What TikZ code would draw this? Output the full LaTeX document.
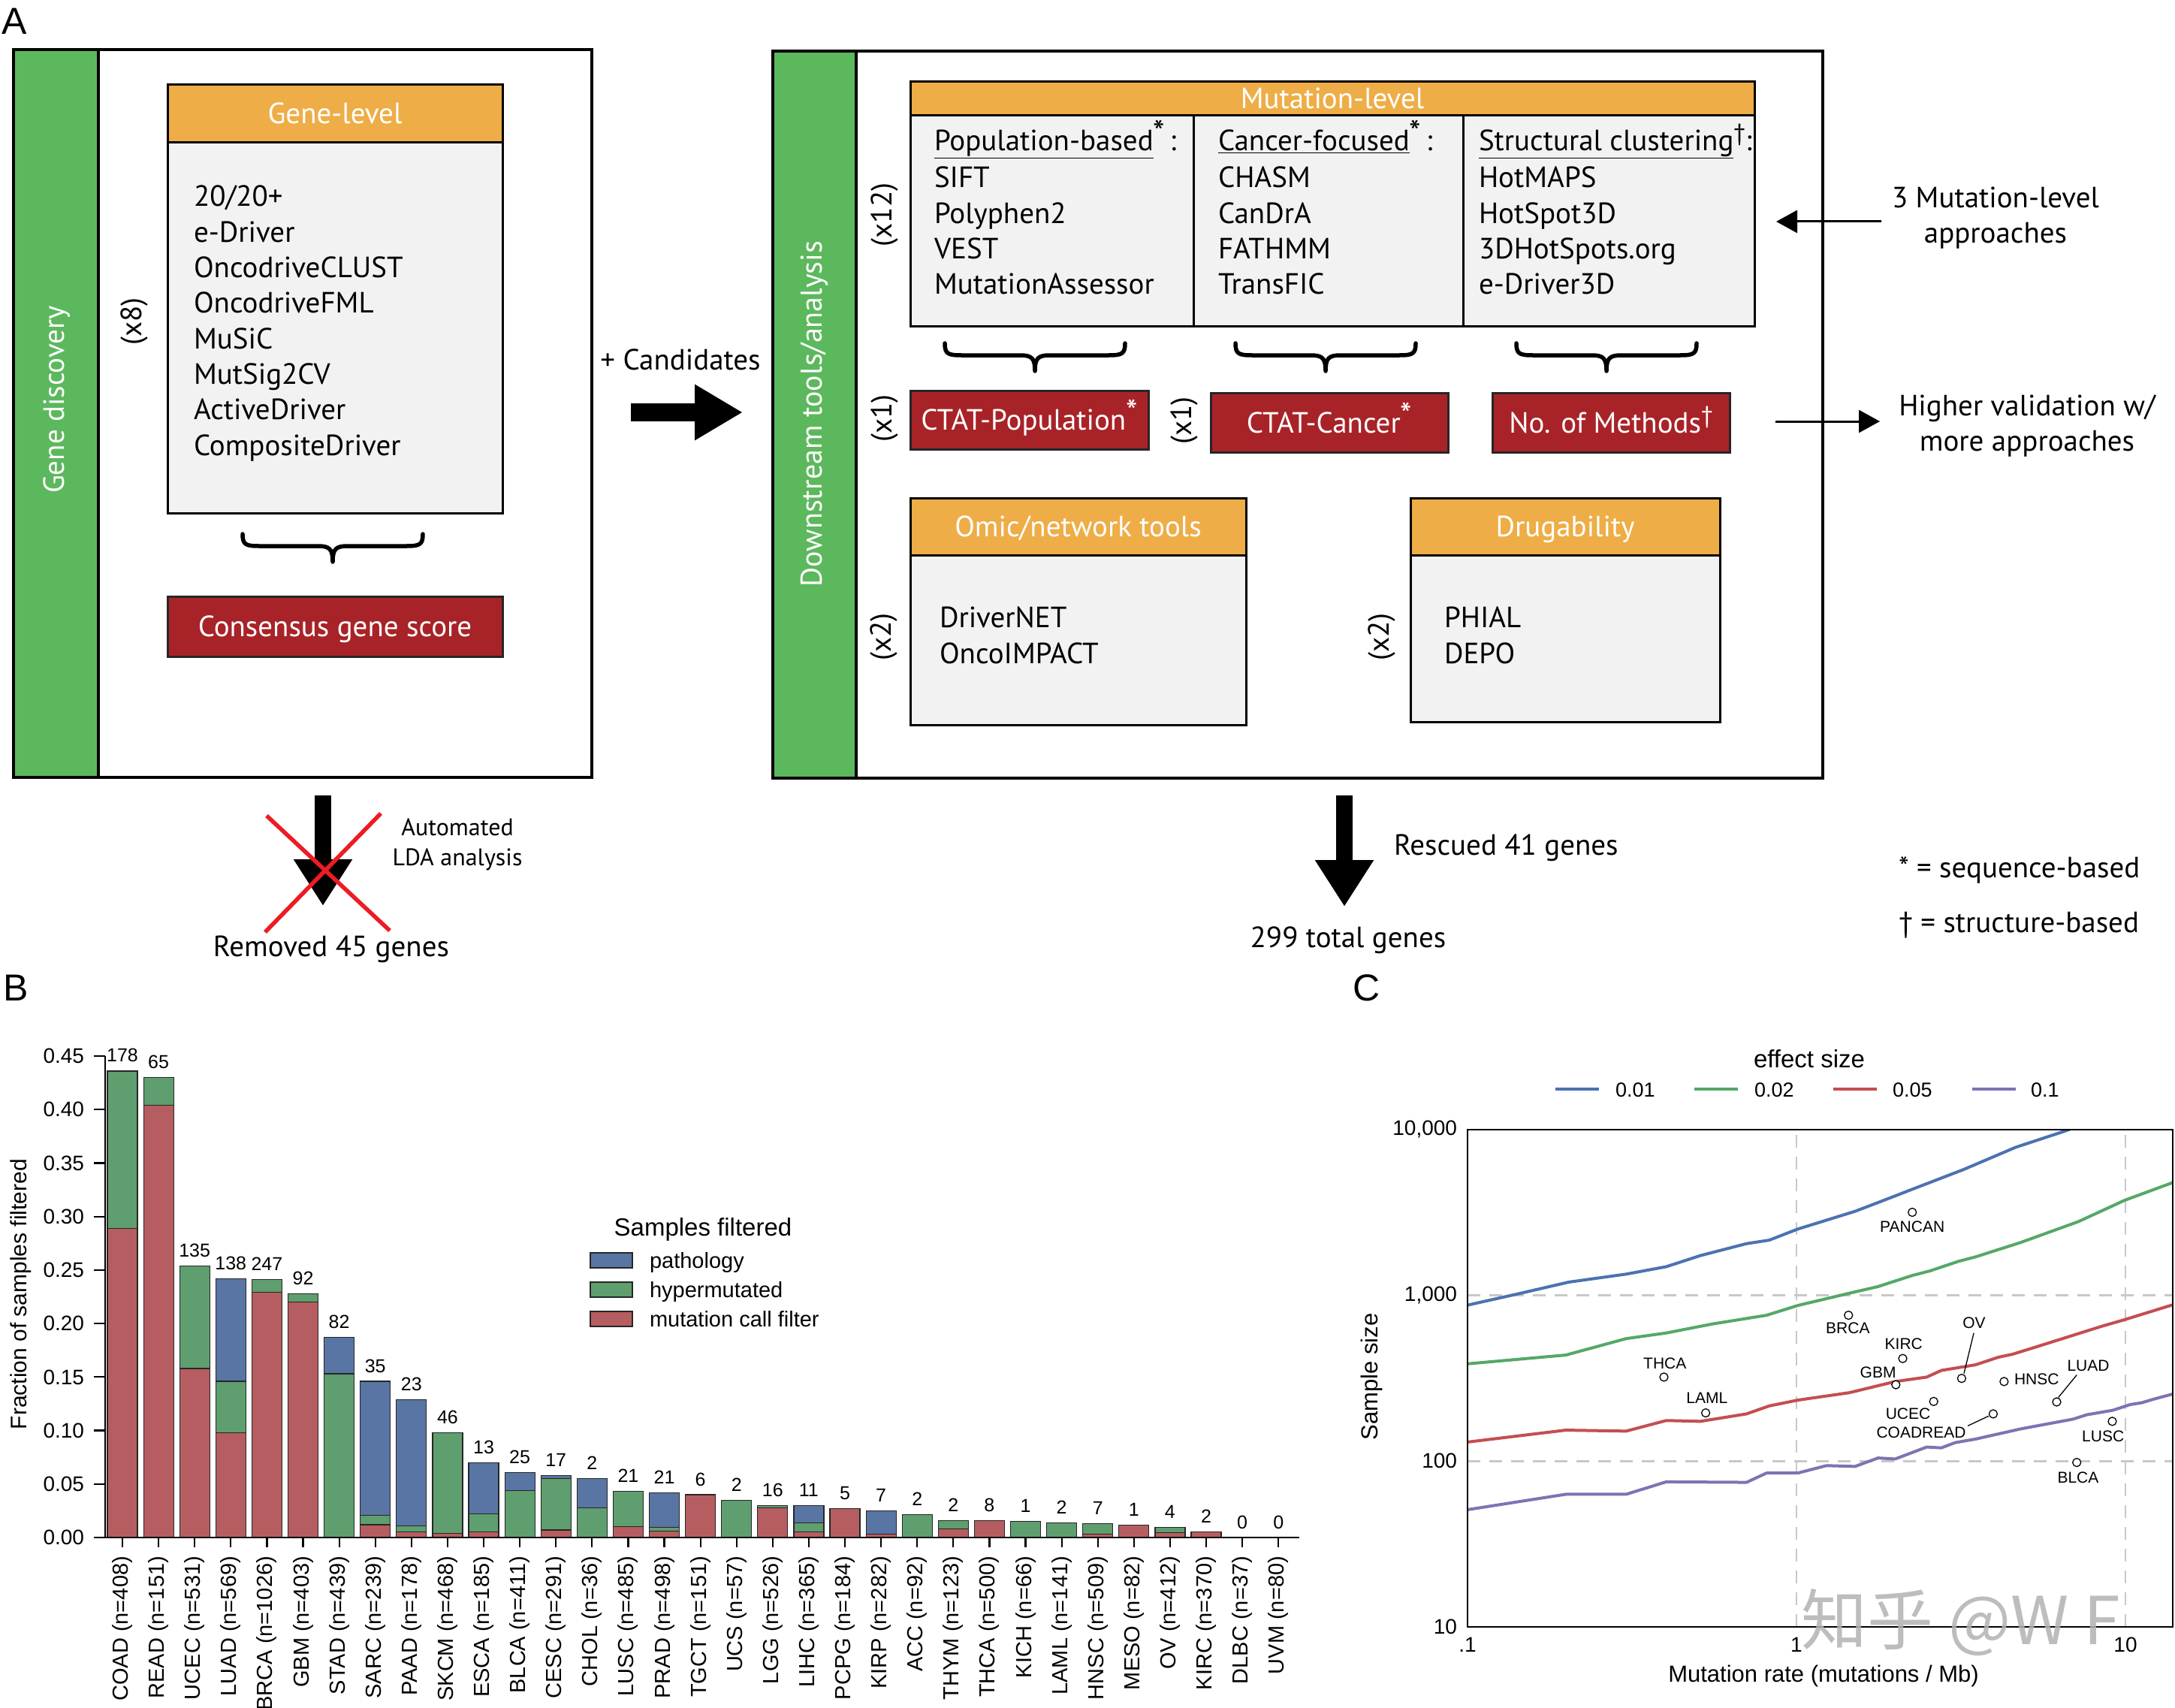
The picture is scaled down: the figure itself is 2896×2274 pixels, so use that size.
\documentclass[tikz,border=0pt]{standalone}
\usepackage{fontspec}
\setmainfont{PT Sans}
\newfontfamily\arialf{Liberation Sans}
\newfontfamily\cjkf{Noto Sans CJK SC}
\usetikzlibrary{arrows.meta}
\newcommand\fsz[1]{\fontsize{#1}{#1}\selectfont}
\newcommand\supast{\raisebox{9pt}{\fsz{44}*}}
\newcommand\supdag{\raisebox{13pt}{\fsz{32}†}}
\definecolor{gbarc}{RGB}{92,184,92}
\definecolor{ohdr}{RGB}{238,173,70}
\definecolor{dred}{RGB}{168,35,40}
\definecolor{lgray}{RGB}{242,242,242}
\definecolor{bblue}{HTML}{5975A4}
\definecolor{bgreen}{HTML}{5F9E6E}
\definecolor{bred}{HTML}{B55D60}
\definecolor{cblue}{HTML}{4C72B0}
\definecolor{cgreen}{HTML}{55A868}
\definecolor{cred}{HTML}{C44E52}
\definecolor{cpurp}{HTML}{8172B2}
\definecolor{xred}{RGB}{237,28,36}
\definecolor{edgec}{RGB}{38,38,38}
\definecolor{gridc}{RGB}{200,200,200}
\newcommand\hbrace[3]{%
  \pgfmathsetmacro\bxm{(#1+#2)/2}%
  \draw[line width=5.5pt, line cap=round, line join=round] (#1,#3) .. controls (#1,#3+14) and (#1+4,#3+16) .. (#1+22,#3+16) -- (\bxm-20,#3+16) .. controls (\bxm-4,#3+16) and (\bxm,#3+20) .. (\bxm,#3+37) .. controls (\bxm,#3+20) and (\bxm+4,#3+16) .. (\bxm+20,#3+16) -- (#2-22,#3+16) .. controls (#2-4,#3+16) and (#2,#3+14) .. (#2,#3);}
\begin{document}
\begin{tikzpicture}[x=1pt,y=-1pt,
  every node/.style={inner sep=0pt,outer sep=0pt},
  frame/.style={draw, line width=3.2pt},
  gbarst/.style={draw, line width=3.2pt, fill=gbarc},
  hdr/.style={draw, line width=3pt, fill=ohdr, text=white, font=\fsz{39}, text height=27pt, text depth=0pt},
  bodyst/.style={draw, line width=3pt, fill=lgray},
  redbox/.style={draw=black!85, line width=3pt, fill=dred, text=white, font=\fsz{39}, text height=27pt, text depth=0pt},
  txt/.style={font=\fsz{39}, anchor=base west},
  rottxt/.style={rotate=90, font=\fsz{39}},
  fatA/.style={line width=24pt, -{Triangle[length=64pt,width=70pt]}},
  fatD/.style={line width=22pt, -{Triangle[length=62pt,width=74pt]}},
  thinarrow/.style={line width=3pt, -{Triangle[length=28pt,width=30pt]}},
  barst/.style={draw=edgec, line width=1.2pt},
  ptst/.style={draw=black, fill=white, line width=1.3pt},
  plab/.style={font=\arialf\fsz{21}},
  leader/.style={line width=1.3pt},
  curve/.style={line width=4pt, line join=round},
  gridst/.style={gridc, line width=2.5pt, dash pattern=on 17pt off 12pt}]
\useasboundingbox (0,0) rectangle (2896,2274);
\fill[white] (0,0) rectangle (2896,2274);

% panel labels
\node[font=\arialf\fsz{50}] (lblA) at (19,28) {A};
\node[font=\arialf\fsz{50}] (lblB) at (21,1315) {B};
\node[font=\arialf\fsz{50}] (lblC) at (1820,1315) {C};

% ---------- Panel A: gene discovery ----------
\node[frame, minimum width=770pt, minimum height=969pt] (geneBox) at (403,550.5) {};
\node[gbarst, minimum width=113pt, minimum height=969pt] (gbarA) at (74.5,550.5) {};
\node[rottxt, text=white] (gdLab) at (76,532) {Gene discovery};
\node[bodyst, minimum width=446pt, minimum height=493pt] (glBody) at (446,436.5) {};
\node[hdr, minimum width=446pt, minimum height=77pt] (glHdr) at (446,151.5) {Gene-level};
\foreach \t [count=\k from 0] in {{20/20+},e-Driver,OncodriveCLUST,OncodriveFML,MuSiC,MutSig2CV,ActiveDriver,CompositeDriver}
  \node[txt] (glItem\k) at (258,275+47.3*\k) {\t};
\node[rottxt] (x8) at (179,428) {(x8)};
\hbrace{323}{563}{711}
\node[redbox, minimum width=446pt, minimum height=80pt] (consBox) at (446,834) {Consensus gene score};

% candidates arrow
\node[font=\fsz{39}, anchor=base] (candLab) at (906,492) {+ Candidates};
\coordinate (candS) at (840,549);
\coordinate (candE) at (989,549);
\draw[fatA] (candS) -- (candE);

% removed arrow
\coordinate (ldS) at (430,1059);
\coordinate (ldE) at (430,1206);
\draw[fatD] (ldS) -- (ldE);
\draw[xred, line width=5.5pt] (355,1086) -- (519,1239) (507,1083) -- (353,1241);
\node[font=\fontsize{32}{40}\selectfont, align=center] (ldaLab) at (609,1124) {Automated\\LDA analysis};
\node[font=\fsz{39}, anchor=base] (remLab) at (441,1273) {Removed 45 genes};

% ---------- Panel A: downstream ----------
\node[frame, minimum width=1398pt, minimum height=968pt] (dsBox) at (1728,552) {};
\node[gbarst, minimum width=111pt, minimum height=968pt] (gbarB) at (1084.5,552) {};
\node[rottxt, text=white, font=\fsz{40}] (dsLab) at (1084,551) {Downstream tools/analysis};

\node[bodyst, minimum width=1124pt, minimum height=280pt] (mlBody) at (1774,294) {};
\node[hdr, minimum width=1124pt, minimum height=45pt] (mlHdr) at (1774,131.5) {Mutation-level};
\draw[line width=3pt] (1589,154) -- (1589,434) (1948,154) -- (1948,434);
\node[txt] (c1h) at (1244,201) {\underline{Population-based}\supast\,:};
\node[txt] (c2h) at (1622,201) {\underline{Cancer-focused}\supast\,:};
\node[txt] (c3h) at (1969,201) {\underline{Structural clustering}\supdag:};
\foreach \t [count=\k from 0] in {SIFT,Polyphen2,VEST,MutationAssessor}
  \node[txt] (c1i\k) at (1244,250+47.3*\k) {\t};
\foreach \t [count=\k from 0] in {CHASM,CanDrA,FATHMM,TransFIC}
  \node[txt] (c2i\k) at (1622,250+47.3*\k) {\t};
\foreach \t [count=\k from 0] in {HotMAPS,HotSpot3D,3DHotSpots.org,e-Driver3D}
  \node[txt] (c3i\k) at (1969,250+47.3*\k) {\t};
\node[rottxt] (x12) at (1178,286) {(x12)};

\hbrace{1258}{1498}{457}
\hbrace{1645}{1885}{457}
\hbrace{2019}{2259}{457}

\node[redbox, minimum width=317pt, minimum height=78pt] (ctatPop) at (1370.5,559) {CTAT-Population\supast};
\node[redbox, minimum width=316pt, minimum height=79pt] (ctatCan) at (1770,562.5) {CTAT-Cancer\supast};
\node[redbox, minimum width=316pt, minimum height=79pt] (nMeth) at (2145,562.5) {No. of Methods\supdag};
\node[rottxt] (x1a) at (1178,557) {(x1)};
\node[rottxt] (x1b) at (1577,560) {(x1)};

\node[bodyst, minimum width=447pt, minimum height=226pt] (omBody) at (1435.5,852) {};
\node[hdr, minimum width=447pt, minimum height=76pt] (omHdr) at (1435.5,701) {Omic/network tools};
\node[txt] (omi0) at (1251,835) {DriverNET};
\node[txt] (omi1) at (1251,883) {OncoIMPACT};
\node[rottxt] (x2a) at (1177,848) {(x2)};

\node[bodyst, minimum width=412pt, minimum height=222pt] (drBody) at (2084,850) {};
\node[hdr, minimum width=412pt, minimum height=76pt] (drHdr) at (2084,701) {Drugability};
\node[txt] (dri0) at (1923,835) {PHIAL};
\node[txt] (dri1) at (1923,883) {DEPO};
\node[rottxt] (x2b) at (1840,848) {(x2)};

% right annotations
\node[font=\fontsize{39}{47}\selectfont, align=center] (mlApp) at (2657,290) {3 Mutation-level\\approaches};
\coordinate (mlAppS) at (2505,295);
\coordinate (mlAppE) at (2365,295);
\draw[thinarrow] (mlAppS) -- (mlAppE);
\node[font=\fontsize{39}{47}\selectfont, align=center] (hiVal) at (2699,567) {Higher validation w/\\more approaches};
\coordinate (hvS) at (2364,561);
\coordinate (hvE) at (2503,561);
\draw[thinarrow] (hvS) -- (hvE);
\node[font=\fsz{39}, anchor=base west] (seqLab) at (2528,1168) {* = sequence-based};
\node[font=\fsz{39}, anchor=base west] (strLab) at (2528,1241) {† = structure-based};

% rescued arrow
\coordinate (rdS) at (1790,1059);
\coordinate (rdE) at (1790,1207);
\draw[fatD] (rdS) -- (rdE);
\node[font=\fsz{39}, anchor=base west] (resLab) at (1856,1138) {Rescued 41 genes};
\node[font=\fsz{39}, anchor=base] (totLab) at (1795,1261) {299 total genes};

% ---------- Panel B ----------
\node[font=\arialf\fsz{30}, rotate=90] (bYlab) at (28,1723) {Fraction of samples filtered};
\begin{scope}[shift={(0,2047)}, y=1424.4pt]
\foreach \lab/\cnt/\vr/\vg/\vb [count=\i from 0] in {
COAD (n=408)/178/0.289/0.436/0.436,
READ (n=151)/65/0.404/0.430/0.430,
UCEC (n=531)/135/0.158/0.254/0.254,
LUAD (n=569)/138/0.098/0.146/0.242,
BRCA (n=1026)/247/0.229/0.241/0.241,
GBM (n=403)/92/0.220/0.228/0.228,
STAD (n=439)/82/0/0.153/0.187,
SARC (n=239)/35/0.012/0.021/0.146,
PAAD (n=178)/23/0.005/0.011/0.129,
SKCM (n=468)/46/0.004/0.098/0.098,
ESCA (n=185)/13/0.005/0.022/0.070,
BLCA (n=411)/25/0/0.044/0.061,
CESC (n=291)/17/0.007/0.055/0.058,
CHOL (n=36)/2/0/0.028/0.055,
LUSC (n=485)/21/0.010/0.043/0.043,
PRAD (n=498)/21/0.006/0.0095/0.042,
TGCT (n=151)/6/0.040/0.040/0.040,
UCS (n=57)/2/0/0.035/0.035,
LGG (n=526)/16/0.028/0.030/0.030,
LIHC (n=365)/11/0.0054/0.0137/0.030,
PCPG (n=184)/5/0.027/0.027/0.027,
KIRP (n=282)/7/0.003/0.003/0.025,
ACC (n=92)/2/0/0.0215/0.0215,
THYM (n=123)/2/0.008/0.016/0.016,
THCA (n=500)/8/0.0157/0.0157/0.0157,
KICH (n=66)/1/0/0.0149/0.0149,
LAML (n=141)/2/0/0.0137/0.0137,
HNSC (n=509)/7/0.003/0.013/0.013,
MESO (n=82)/1/0.0116/0.0116/0.0116,
OV (n=412)/4/0.0045/0.0095/0.0095,
KIRC (n=370)/2/0.0054/0.0054/0.0054,
DLBC (n=37)/0/0/0/0,
UVM (n=80)/0/0/0/0}{
  \pgfmathsetmacro\cx{163+48.1*\i}
  \ifdim\vr pt>0pt \filldraw[barst, fill=bred] (\cx-20,0) rectangle (\cx+20,\vr); \fi
  \ifdim\vg pt>\vr pt \filldraw[barst, fill=bgreen] (\cx-20,\vr) rectangle (\cx+20,\vg); \fi
  \ifdim\vb pt>\vg pt \filldraw[barst, fill=bblue] (\cx-20,\vg) rectangle (\cx+20,\vb); \fi
  \node[font=\arialf\fsz{25}, anchor=base, yshift=12pt] (cnt\i) at (\cx,\vb) {\cnt};
  \draw[line width=2.2pt] (\cx,0) -- ++(0,-13pt);
  \node[font=\arialf\fsz{29}, rotate=90, anchor=east] (xl\i) at ([yshift=-25pt]\cx,0) {\lab};
}
\foreach \v [count=\j] in {0.00,0.05,0.10,0.15,0.20,0.25,0.30,0.35,0.40,0.45}{
  \draw[line width=2.2pt] (140,\v) -- ++(-15pt,0);
  \node[font=\arialf\fsz{28}, anchor=east] (yt\j) at ([xshift=-28pt]140,\v) {\v};
}
\draw[line width=2.7pt] (140,0.45) -- (140,0) -- (1730,0);
\end{scope}
% legend B
\node[font=\arialf\fsz{33}] (bLegT) at (936,1637) {Samples filtered};
\node[barst, fill=bblue, minimum width=56pt, minimum height=20pt] (bLegP) at (814,1678) {};
\node[barst, fill=bgreen, minimum width=56pt, minimum height=20pt] (bLegH) at (814,1717) {};
\node[barst, fill=bred, minimum width=56pt, minimum height=20pt] (bLegM) at (814,1756) {};
\node[font=\arialf\fsz{29}, anchor=base west] (bLegPt) at (865,1688) {pathology};
\node[font=\arialf\fsz{29}, anchor=base west] (bLegHt) at (865,1727) {hypermutated};
\node[font=\arialf\fsz{29}, anchor=base west] (bLegMt) at (865,1766) {mutation call filter};

% ---------- Panel C ----------
\node[font=\arialf\fsz{33}] (cLegT) at (2409,1410) {effect size};
\draw[cblue, line width=4pt] (2071,1450) -- (2129,1450);
\draw[cgreen, line width=4pt] (2256,1450) -- (2314,1450);
\draw[cred, line width=4pt] (2441,1450) -- (2499,1450);
\draw[cpurp, line width=4pt] (2626,1450) -- (2684,1450);
\node[font=\arialf\fsz{27}, anchor=base west] (cL1) at (2151,1460) {0.01};
\node[font=\arialf\fsz{27}, anchor=base west] (cL2) at (2336,1460) {0.02};
\node[font=\arialf\fsz{27}, anchor=base west] (cL3) at (2520,1460) {0.05};
\node[font=\arialf\fsz{27}, anchor=base west] (cL4) at (2704,1460) {0.1};
\node[font=\arialf\fsz{31}, rotate=90] (cYlab) at (1826,1833) {Sample size};
\node[font=\arialf\fsz{31}] (cXlab) at (2428,2231) {Mutation rate (mutations / Mb)};

\begin{scope}[shift={(2392,2386.7)}, x=438pt, y=220.7pt]
\draw[gridst] (0,1) -- (0,4) (1,1) -- (1,4) (-1,2) -- (1.144,2) (-1,3) -- (1.144,3);
\begin{scope}
\clip (-1,1) rectangle (1.144,4);
\draw[curve, cblue] plot coordinates {(-1,2.941) (-0.849,3.008) (-0.692,3.080) (-0.518,3.128) (-0.396,3.173) (-0.292,3.240) (-0.152,3.312) (-0.083,3.333) (0.004,3.400) (0.178,3.507) (0.248,3.560) (0.352,3.640) (0.509,3.760) (0.666,3.893) (0.822,3.995) (0.9,4.06)};
\draw[curve, cgreen] plot coordinates {(-1,2.587) (-0.701,2.640) (-0.518,2.739) (-0.396,2.773) (-0.257,2.827) (-0.091,2.880) (0.004,2.939) (0.161,3.013) (0.248,3.053) (0.352,3.120) (0.405,3.147) (0.492,3.205) (0.544,3.232) (0.683,3.320) (0.857,3.445) (0.997,3.573) (1.150,3.685)};
\draw[curve, cred] plot coordinates {(-1,2.115) (-0.701,2.187) (-0.518,2.181) (-0.396,2.245) (-0.292,2.240) (-0.152,2.285) (-0.083,2.333) (0.004,2.368) (0.161,2.413) (0.300,2.480) (0.396,2.507) (0.440,2.547) (0.544,2.581) (0.614,2.627) (0.657,2.645) (0.735,2.693) (0.927,2.813) (0.997,2.853) (1.150,2.947)};
\draw[curve, cpurp] plot coordinates {(-1,1.707) (-0.701,1.800) (-0.518,1.800) (-0.396,1.875) (-0.152,1.872) (-0.091,1.928) (0.004,1.928) (0.091,1.973) (0.178,1.968) (0.248,2.019) (0.300,2.013) (0.396,2.085) (0.440,2.080) (0.483,2.112) (0.544,2.133) (0.683,2.195) (0.840,2.253) (0.883,2.280) (0.962,2.307) (1.014,2.341) (1.049,2.352) (1.084,2.373) (1.150,2.408)};
\end{scope}
\draw[line width=2pt] (-1,1) rectangle (1.144,4);
% tick labels
\node[font=\arialf\fsz{28}, anchor=east] (cy1) at ([xshift=-14pt]-1,1) {10};
\node[font=\arialf\fsz{28}, anchor=east] (cy2) at ([xshift=-14pt]-1,2) {100};
\node[font=\arialf\fsz{28}, anchor=east] (cy3) at ([xshift=-14pt]-1,3) {1,000};
\node[font=\arialf\fsz{28}, anchor=east] (cy4) at ([xshift=-14pt]-1,4) {10,000};
\node[font=\arialf\fsz{28}, anchor=north] (cx1) at ([yshift=-14pt]-1,1) {.1};
\node[font=\arialf\fsz{28}, anchor=north] (cx2) at ([yshift=-14pt]0,1) {1};
\node[font=\arialf\fsz{28}, anchor=north] (cx3) at ([yshift=-14pt]1,1) {10};
% leaders
\draw[leader] (0.539,2.773) -- (0.509,2.528);
\draw[leader] (0.852,2.520) -- (0.796,2.384);
\draw[leader] (0.521,2.213) -- (0.584,2.272);
% points
\foreach \nm/\px/\py/\lx/\ly in {PANCAN/0.352/3.501/0.352/3.413, BRCA/0.158/2.880/0.156/2.800, KIRC/0.323/2.619/0.326/2.707, OV/0.502/2.499/0.540/2.835, THCA/-0.403/2.507/-0.400/2.587, GBM/0.302/2.461/0.248/2.533, HNSC/0.631/2.480/0.730/2.493, LUAD/0.791/2.357/0.887/2.573, LAML/-0.276/2.291/-0.272/2.379, UCEC/0.417/2.360/0.339/2.285, COADREAD/0.598/2.285/0.379/2.173, LUSC/0.960/2.240/0.932/2.152, BLCA/0.852/1.992/0.856/1.899}{
  \draw[ptst] (\px,\py) circle[radius=5.5pt];
  \node[plab] (pl\nm) at (\lx,\ly) {\nm};
}
\end{scope}

% watermark
\node[text=gray!60, font=\cjkf\fsz{88}, opacity=0.85] (wmark) at (2611,2160) {知乎 @W F};
\end{tikzpicture}
\end{document}
